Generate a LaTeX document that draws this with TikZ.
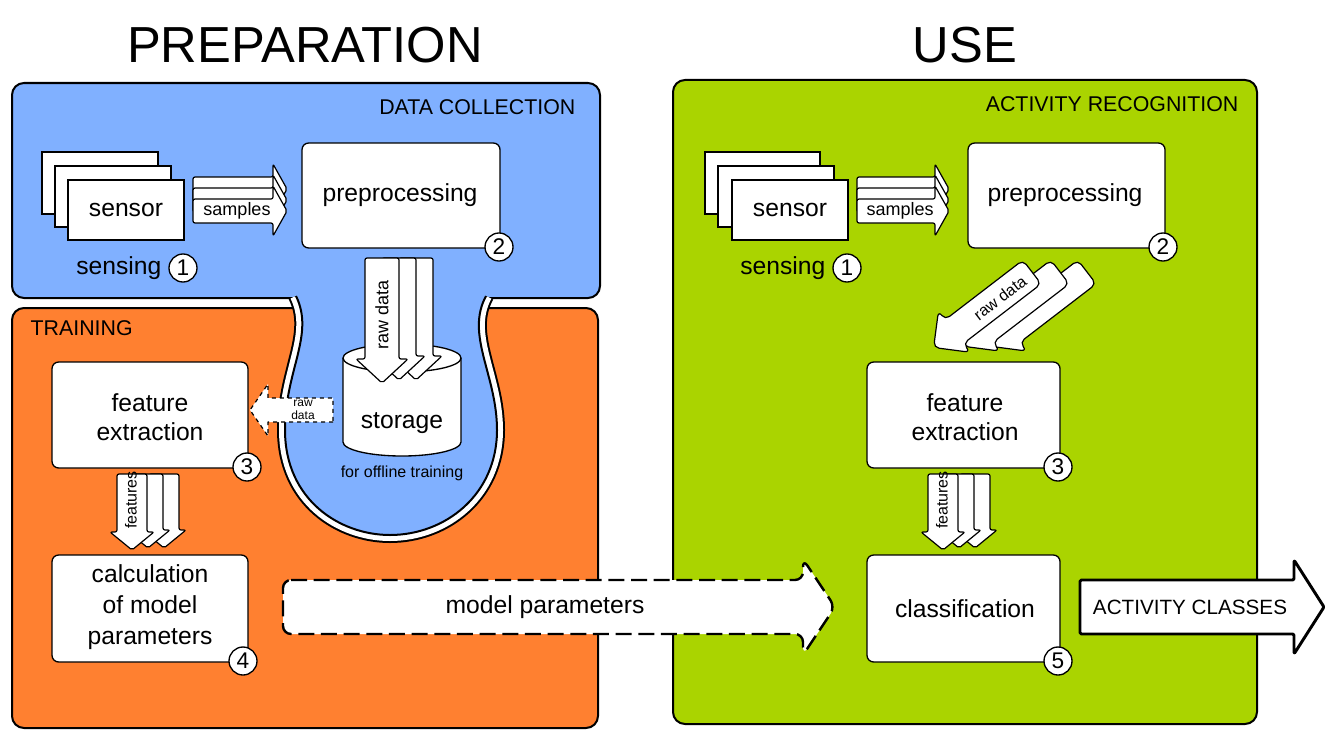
\documentclass[tikz,border=0pt]{standalone}
\usepackage{fontspec}
\setmainfont{Liberation Sans}
\usetikzlibrary{fit}
\definecolor{pblue}{RGB}{128,176,255}
\definecolor{porange}{RGB}{255,128,48}
\definecolor{pgreen}{RGB}{170,212,0}
% #1 style, #2 tail, #3 angle, #4 length, #5 half body, #6 half head, #7 head length
\newcommand\fatarr[7]{\draw[#1,shift={#2},rotate=#3] (0,-#5) -- ({#4-#7},-#5) -- ({#4-#7},-#6) -- (#4,0) -- ({#4-#7},#6) -- ({#4-#7},#5) -- (0,#5) -- cycle;}
\begin{document}
\begin{tikzpicture}[x=0.75pt,y=-0.75pt,
  panel/.style={draw=black,line width=1.5pt,rounded corners=9pt},
  box/.style={draw=black,fill=white,line width=1pt,rounded corners=5pt,inner sep=0pt},
  sens/.style={draw=black,fill=white,line width=1.4pt,inner sep=0pt},
  num/.style={circle,draw=black,fill=white,line width=1pt,minimum size=21pt,inner sep=0pt,font=\fontsize{17}{17}\selectfont},
  big/.style={font=\fontsize{18.5}{22}\selectfont,align=center},
  head/.style={font=\fontsize{16}{16}\selectfont},
  arr/.style={draw=black,fill=white,line width=0.9pt,line join=round,rounded corners=1.5pt}]
\useasboundingbox (0,0) rectangle (1330,749);
% titles
\node[font=\fontsize{38}{38}\selectfont] (tprep) at (305,45) {PREPARATION};
\node[font=\fontsize{38}{38}\selectfont] (tuse) at (965,45) {USE};
% panels
\draw[panel,fill=pblue] (12,83) rectangle (600,298);
\draw[panel,fill=porange] (12,308) rectangle (598,728);
\draw[panel,fill=pgreen] (673,80) rectangle (1257,724);
% bulb
\def\bulb{(296,296) .. controls (315,335) and (285,370) .. (285,430) .. controls (285,500) and (340,535) .. (390,535) .. controls (445,535) and (497,495) .. (497,430) .. controls (497,375) and (465,335) .. (486,296)}
\draw[line width=12pt,black] \bulb;
\draw[line width=9pt,white] \bulb;
\fill[pblue] \bulb -- (486,290) -- (296,290) -- cycle;
\draw[line width=1.5pt,black] \bulb;
% labels
\node[head,anchor=east] (ldc) at (580,107) {DATA COLLECTION};
\node[head,anchor=west] (ltr) at (26,328) {TRAINING};
\node[head,anchor=east] (lar) at (1243,104) {ACTIVITY RECOGNITION};
% ---------- left: data collection
\node[sens,fit={(42,152)(158,214)}] (s1a) {};
\node[sens,fit={(55,166)(171,227)}] (s1b) {};
\node[sens,fit={(68,180)(184,240)}] (s1c) {};
\node[big] (s1t) at (126,210) {sensor};
\fatarr{arr}{(193,189)}{0}{94}{12}{25}{14}
\fatarr{arr}{(193,200)}{0}{94}{12}{25}{14}
\fatarr{arr}{(193,211)}{0}{94}{12}{25}{14}
\node[font=\fontsize{13.5}{13.5}\selectfont] (smp1) at (237,211) {samples};
\node[big,anchor=east] (sg1) at (166,268) {sensing};
\node[num] (n1a) at (183,268) {1};
\node[box,fit={(302,143)(500,248)}] (pre1) {};
\node[big] (pre1t) at (400,195) {preprocessing};
\node[num] (n2a) at (499,247) {2};
% storage
\draw[line width=1pt,fill=white] (343,358) -- (343,442) arc (180:360:44.25pt and 10.5pt) -- (461,358) arc (0:180:44.25pt and 10.5pt) -- cycle;
\draw[line width=1pt] (343,358) arc (180:360:44.25pt and 10.5pt);
\node[big] (stor) at (402,423) {storage};
\node[font=\fontsize{12}{12}\selectfont] (off) at (402,473) {for offline training};
\fatarr{arr}{(416,258)}{-90}{122}{17}{26}{24}
\fatarr{arr}{(399,258)}{-90}{122}{17}{26}{24}
\fatarr{arr}{(382,258)}{-90}{125}{17}{26}{24}
\node[font=\fontsize{13.5}{13.5}\selectfont,rotate=90] (rd1) at (382,315) {raw data};
\fatarr{arr,dashed,rounded corners=0pt}{(333,410)}{180}{83}{12}{26}{18}
\node[font=\fontsize{9}{10}\selectfont,align=center] (rd2) at (303,410) {raw\\data};
% training
\node[box,fit={(52,362)(248,468)}] (fe1) {};
\node[big] (fe1t) at (150,417) {feature\\extraction};
\node[num] (n3a) at (247,467) {3};
\fatarr{arr}{(164,474)}{-90}{74}{15}{22}{18}
\fatarr{arr}{(148,474)}{-90}{74}{15}{22}{18}
\fatarr{arr}{(132,474)}{-90}{76}{15}{22}{18}
\node[font=\fontsize{12}{12}\selectfont,rotate=90] (ft1) at (131,500) {features};
\node[box,fit={(52,555)(248,662)}] (calc) {};
\node[big,font=\fontsize{18.5}{23}\selectfont] (calct) at (150,607) {calculation\\of model\\parameters};
\node[num] (n4) at (243,661) {4};
\fatarr{arr,dashed,line width=1.8pt,rounded corners=6pt,dash pattern=on 12pt off 5pt}{(283,607)}{0}{552}{27}{48}{32}
\node[big] (mp) at (545,607) {model parameters};
% ---------- right: activity recognition
\node[sens,fit={(705,152)(820,214)}] (s2a) {};
\node[sens,fit={(718,166)(834,227)}] (s2b) {};
\node[sens,fit={(732,180)(848,240)}] (s2c) {};
\node[big] (s2t) at (790,210) {sensor};
\fatarr{arr}{(857,189)}{0}{92}{12}{25}{14}
\fatarr{arr}{(857,200)}{0}{92}{12}{25}{14}
\fatarr{arr}{(857,211)}{0}{92}{12}{25}{14}
\node[font=\fontsize{13.5}{13.5}\selectfont] (smp2) at (900,211) {samples};
\node[big,anchor=east] (sg2) at (830,268) {sensing};
\node[num] (n1b) at (847,268) {1};
\node[box,fit={(968,143)(1165,248)}] (pre2) {};
\node[big] (pre2t) at (1065,195) {preprocessing};
\node[num] (n2b) at (1163,247) {2};
\fatarr{arr,rounded corners=4pt}{(1087,272)}{-142.5}{122}{15}{26}{26}
\fatarr{arr,rounded corners=4pt}{(1060,272)}{-142.5}{122}{15}{26}{26}
\fatarr{arr,rounded corners=4pt}{(1032,272)}{-142.5}{124}{15}{26}{26}
\node[font=\fontsize{12}{12}\selectfont,rotate=37.5] (rd3) at (1000,298) {raw data};
\node[box,fit={(867,362)(1060,468)}] (fe2) {};
\node[big] (fe2t) at (965,417) {feature\\extraction};
\node[num] (n3b) at (1058,467) {3};
\fatarr{arr}{(975,474)}{-90}{74}{15}{22}{18}
\fatarr{arr}{(959,474)}{-90}{74}{15}{22}{18}
\fatarr{arr}{(943,474)}{-90}{76}{15}{22}{18}
\node[font=\fontsize{12}{12}\selectfont,rotate=90] (ft2) at (942,500) {features};
\node[box,fit={(867,555)(1060,662)}] (cls) {};
\node[big] (clst) at (965,609) {classification};
\node[num] (n5) at (1058,661) {5};
\fatarr{arr,line width=2.2pt,rounded corners=1pt}{(1080,607)}{0}{244}{27}{47}{30}
\node[font=\fontsize{15.5}{15.5}\selectfont] (ac) at (1190,607) {ACTIVITY CLASSES};
\end{tikzpicture}
\end{document}
